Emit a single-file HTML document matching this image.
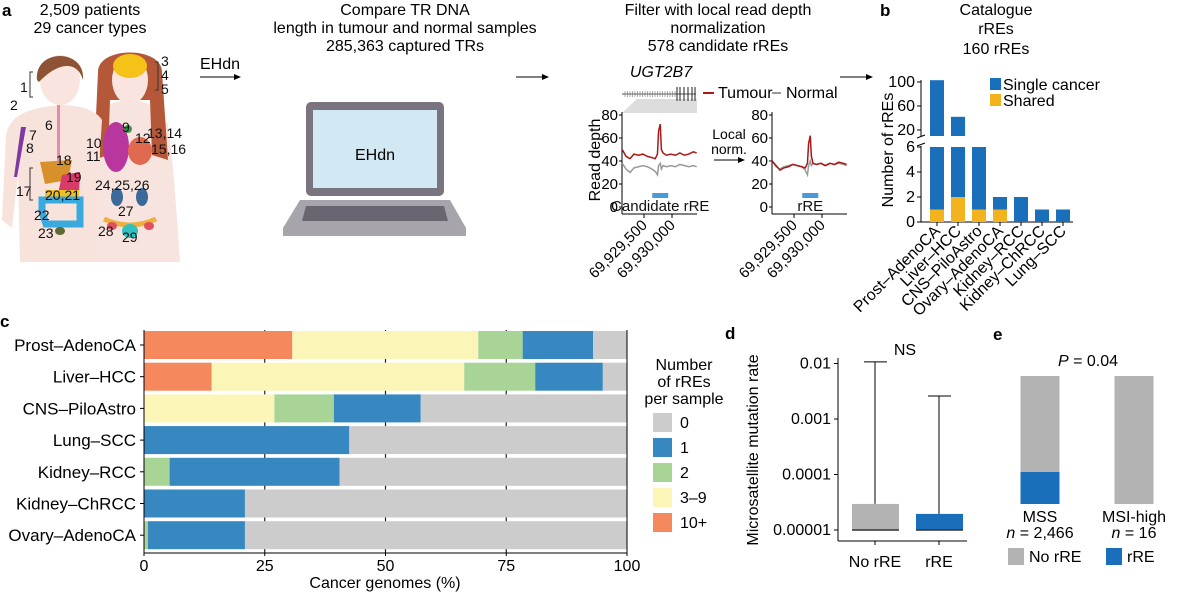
<!DOCTYPE html>
<html><head><meta charset="utf-8"><style>
html,body{margin:0;padding:0;background:#fff}
svg{display:block;font-family:"Liberation Sans",Arial,sans-serif}
</style></head><body>
<svg id="fig" width="1200" height="594" viewBox="0 0 1200 594" xmlns="http://www.w3.org/2000/svg">
<g id="panelA">
<text x="2" y="16" font-size="17" font-weight="bold">a</text>
<text x="90" y="15" font-size="16" text-anchor="middle">2,509 patients</text>
<text x="90" y="33" font-size="16" text-anchor="middle">29 cancer types</text>
<g>
<path d="M130 100 C100 102 95 115 90 125 C86 160 88 200 82 262 L180 262 C176 200 172 150 168 125 C160 113 152 100 130 100Z" fill="#f8e4df"/>
<path d="M98 72 C98 46 162 46 162 72 L168 160 L152 155 L150 100 L110 100 L108 155 L94 160Z" fill="#b5583a"/>
<ellipse cx="130" cy="80" rx="18" ry="24" fill="#f9e4df"/>
<ellipse cx="130" cy="66" rx="17" ry="12" fill="#f5c318"/>
<path d="M60 105 C28 108 10 115 6 135 L2 220 L12 228 L18 175 L20 262 L98 262 L100 150 L102 120 C96 110 80 105 60 105Z" fill="#f8e2dc"/>
<ellipse cx="60" cy="80" rx="20" ry="25" fill="#f9e4df"/>
<path d="M37 80 C34 48 86 48 83 80 C78 62 60 60 39 82Z" fill="#8e5234"/>
<path d="M21 127 L26 127 L17 177 L14 177Z" fill="#7d3aa0"/>
<rect x="57" y="105" width="3" height="62" fill="#e88ab0"/>
<path d="M40 162 L72 160 L68 180 L45 184Z" fill="#d8902a"/>
<path d="M62 175 L80 172 L79 194 L58 194Z" fill="#d83a6a"/>
<rect x="45" y="190" width="34" height="9" fill="#f0c020"/>
<path d="M42 200 L80 200 L80 224 L46 224 L42 212Z" fill="none" stroke="#3aa9dd" stroke-width="7"/>
<ellipse cx="60" cy="231" rx="5" ry="4" fill="#5a6a30"/>
<ellipse cx="116" cy="147" rx="13" ry="25" fill="#b8369e"/>
<ellipse cx="128" cy="129" rx="4" ry="4" fill="#3a9a4a"/>
<ellipse cx="140" cy="151" rx="12" ry="14" fill="#e06a50"/>
<ellipse cx="117" cy="197" rx="6" ry="9" fill="#3a6a9a"/>
<ellipse cx="142" cy="197" rx="6" ry="9" fill="#3a6a9a"/>
<path d="M104 219 Q130 231 156 219" fill="none" stroke="#f0b040" stroke-width="5"/>
<ellipse cx="112" cy="226" rx="5" ry="4" fill="#e05060"/>
<ellipse cx="149" cy="226" rx="5" ry="4" fill="#e05060"/>
<ellipse cx="130" cy="231" rx="8" ry="7" fill="#30c0c0"/>
<g font-size="14" fill="#111">
<text x="20" y="92">1</text><text x="10" y="110">2</text><text x="45" y="130">6</text>
<text x="29" y="140">7</text><text x="26" y="153">8</text><text x="161" y="66">3</text><text x="161" y="80">4</text><text x="161" y="94">5</text>
<text x="122" y="132">9</text><text x="86" y="148">10</text><text x="86" y="161">11</text><text x="135" y="143">12</text>
<text x="147" y="138">13,14</text><text x="151" y="154">15,16</text><text x="56" y="165">18</text><text x="66" y="182">19</text>
<text x="16" y="196">17</text><text x="45" y="200">20,21</text><text x="34" y="220">22</text><text x="38" y="238">23</text>
<text x="95" y="190">24,25,26</text><text x="118" y="216">27</text><text x="98" y="236">28</text><text x="122" y="242">29</text>
</g>
<path d="M33 72 L30 72 L30 97 L33 97 M155 62 L158 62 L158 90 L155 90 M33 168 L30 168 L30 200 L33 200" fill="none" stroke="#333"/>
</g>
<text x="220" y="69" font-size="16" text-anchor="middle">EHdn</text>
<g><line x1="200" y1="77" x2="236" y2="77" stroke="#000"/><path d="M241 77 L234 74 L234 80Z"/></g>
<text x="405" y="15" font-size="16" text-anchor="middle">Compare TR DNA</text>
<text x="405" y="33" font-size="16" text-anchor="middle">length in tumour and normal samples</text>
<text x="405" y="51" font-size="16" text-anchor="middle">285,363 captured TRs</text>
<g>
<rect x="306" y="102" width="138" height="94" rx="5" fill="#7a7480"/>
<rect x="313" y="110" width="124" height="78" fill="#d2e8f2"/>
<path d="M300 200 L450 200 L466 228 L466 236 L283 236 L283 228Z" fill="#a8a4ac"/>
<path d="M306 206 L444 206 L448 221 L302 221Z" fill="#6a6570"/>
<text x="375" y="160" font-size="16" text-anchor="middle">EHdn</text>
</g>
<g><line x1="516" y1="77" x2="544" y2="77" stroke="#000"/><path d="M549 77 L542 74 L542 80Z"/></g>
<text x="718" y="15" font-size="16" text-anchor="middle">Filter with local read depth</text>
<text x="718" y="33" font-size="16" text-anchor="middle">normalization</text>
<text x="718" y="51" font-size="16" text-anchor="middle">578 candidate rREs</text>
<text x="661" y="77" font-size="16" font-style="italic" text-anchor="middle">UGT2B7</text>
<g id="geneTrack">
<line x1="622" y1="94" x2="696" y2="94" stroke="#555"/>
<path d="M637 99 L622 113 L697 113 L697 99Z" fill="#ddd"/>
</g>
<g>
<line x1="703" y1="93" x2="714" y2="93" stroke="#b01818" stroke-width="2"/>
<text x="718" y="98" font-size="16">Tumour</text>
<line x1="772" y1="93" x2="781" y2="93" stroke="#999" stroke-width="2"/>
<text x="786" y="98" font-size="16">Normal</text>
</g>
<text x="729" y="139" font-size="14" text-anchor="middle">Local</text>
<text x="729" y="154" font-size="14" text-anchor="middle">norm.</text>
<g><line x1="714" y1="160" x2="740" y2="160" stroke="#000"/><path d="M745 160 L738 157 L738 163Z"/></g>
<text x="600" y="160" font-size="16" text-anchor="middle" transform="rotate(-90 600 160)">Read depth</text>
<g id="rd1"></g>
<g id="rd2"></g>
<g><line x1="840" y1="77" x2="868" y2="77" stroke="#000"/><path d="M873 77 L866 74 L866 80Z"/></g>
</g>
<g id="panelB">
<text x="880" y="16" font-size="17" font-weight="bold">b</text>
<text x="996" y="15" font-size="16" text-anchor="middle">Catalogue</text>
<text x="996" y="34" font-size="16" text-anchor="middle">rREs</text>
<text x="996" y="54" font-size="16" text-anchor="middle">160 rREs</text>
<text x="893" y="150" font-size="16" text-anchor="middle" transform="rotate(-90 893 150)">Number of rREs</text>
<rect x="990" y="78" width="11" height="12" fill="#1a6fba"/>
<text x="1003" y="90" font-size="16">Single cancer</text>
<rect x="990" y="94" width="11" height="12" fill="#f2b31e"/>
<text x="1003" y="106" font-size="16">Shared</text>
</g>
<g id="panelC">
<text x="0" y="327" font-size="17" font-weight="bold">c</text>
<text x="385" y="588" font-size="16" text-anchor="middle">Cancer genomes (%)</text>
<text x="684" y="370" font-size="16" text-anchor="middle">Number</text>
<text x="684" y="387" font-size="16" text-anchor="middle">of rREs</text>
<text x="684" y="404" font-size="16" text-anchor="middle">per sample</text>
</g>
<g id="panelD">
<text x="725" y="339" font-size="17" font-weight="bold">d</text>
<text x="905" y="355" font-size="16" text-anchor="middle">NS</text>
<text x="758" y="450" font-size="16" text-anchor="middle" transform="rotate(-90 758 450)">Microsatellite mutation rate</text>
</g>
<g id="panelE">
<text x="993" y="340" font-size="17" font-weight="bold">e</text>
<text x="1088" y="366" font-size="16" text-anchor="middle"><tspan font-style="italic">P</tspan> = 0.04</text>
</g>
</svg>
<script>
var NS="http://www.w3.org/2000/svg";
function mk(p,t,a){var e=document.createElementNS(NS,t);for(var k in a)e.setAttribute(k,a[k]);p.appendChild(e);return e;}
// ---- read depth data (tumour/normal depth along locus) ----
var rdPositions=[69929110,69929180,69929250,69929320,69929400,69929480,69929560,69929640,69929700,69929740,69929760,69929790,69929810,69929840,69929900,69929980,69930060,69930140,69930220,69930300,69930380,69930440];
var rdTumour1=[50,44,42,46,45,46,44,43,42,46,66,72,50,47,45,46,45,47,45,46,48,47];
var rdNormal1=[38,33,30,34,35,36,35,33,31,28,36,38,33,36,35,36,35,37,36,35,36,35];
var rdTumour2=[40,36,32,34,35,37,36,35,34,38,55,62,44,38,37,38,36,38,37,39,38,37];
var rdNormal2=[40,35,33,35,36,37,36,35,32,28,36,40,36,38,37,38,36,38,37,38,37,36];
var rdTicks=[0,20,40,60,80];
var rdXTicks=[69929500,69930000];
var rdXTickLabels=["69,929,500","69,930,000"];
function drawRD(g,x0,tum,nor,label){
  var xMin=69929107,xMax=69930446,x1=x0+75;
  function X(v){return x0+(v-xMin)/(xMax-xMin)*(x1-x0);}
  function Y(v){return 207-v*(207-115)/80;}
  mk(g,"line",{x1:x0,y1:112,x2:x0,y2:214,stroke:"#000"});
  mk(g,"line",{x1:x0,y1:214,x2:x1,y2:214,stroke:"#000"});
  rdTicks.forEach(function(t){var y=Y(t);mk(g,"line",{x1:x0-3,y1:y,x2:x0,y2:y,stroke:"#000"});
    var tx=mk(g,"text",{x:x0-4,y:y+5,"font-size":"15","text-anchor":"end"});tx.textContent=t;
    
    });
  rdXTicks.forEach(function(t,i){var x=X(t);mk(g,"line",{x1:x,y1:214,x2:x,y2:218,stroke:"#000"});
    var tx=mk(g,"text",{x:x+4,y:226,"font-size":"15","text-anchor":"end",transform:"rotate(-45 "+(x+4)+" 226)"});tx.textContent=rdXTickLabels[i];
    
    });
  var pn=rdPositions.map(function(p,i){return X(p)+","+Y(nor[i]);}).join(" ");
  var n=mk(g,"polyline",{points:pn,fill:"none",stroke:"#999","stroke-width":"1.5"});
  
  
  var pt=rdPositions.map(function(p,i){return X(p)+","+Y(tum[i]);}).join(" ");
  var t=mk(g,"polyline",{points:pt,fill:"none",stroke:"#a81818","stroke-width":"1.5"});
  
  
  var cx=X(69929790);
  var r=mk(g,"rect",{x:cx-8,y:193,width:16,height:5,fill:"#4a9ad8"});
  
  
  var l=mk(g,"text",{x:cx,y:211,"font-size":"15","text-anchor":"middle",fill:"#111"});l.textContent=label;
  
  
}
drawRD(document.getElementById("rd1"),622,rdTumour1,rdNormal1,"Candidate rRE");
drawRD(document.getElementById("rd2"),772,rdTumour2,rdNormal2,"rRE");
(function(){var g=document.getElementById("geneTrack");
 for(var x=625;x<676;x+=2.5)mk(g,"line",{x1:x,y1:91,x2:x,y2:97,stroke:"#777","stroke-width":"0.6"});
 [677,680,684,688,692,695].forEach(function(x){mk(g,"line",{x1:x,y1:87,x2:x,y2:101,stroke:"#222","stroke-width":"1"});});})();

// ---- panel b ----
var bCats=["Prost–AdenoCA","Liver–HCC","CNS–PiloAstro","Ovary–AdenoCA","Kidney–RCC","Kidney–ChRCC","Lung–SCC"];
var bSingle=[102,40,5,1,2,1,1];
var bShared=[1,2,1,1,0,0,0];
var bLowTicks=[0,2,4,6];
var bHighTicks=[20,60,100];
(function(){
 var g=document.getElementById("panelB");
 function yL(v){return 222-v*12.5;}
 function yH(v){return 130-(v-20)*0.6;}
 mk(g,"line",{x1:921,y1:146,x2:921,y2:222,stroke:"#000"});
 mk(g,"line",{x1:921,y1:80,x2:921,y2:136,stroke:"#000"});
 mk(g,"line",{x1:917,y1:138,x2:925,y2:135,stroke:"#000"});
 mk(g,"line",{x1:917,y1:146,x2:925,y2:143,stroke:"#000"});
 mk(g,"line",{x1:921,y1:222,x2:1073,y2:222,stroke:"#000"});
 bLowTicks.forEach(function(t){var y=yL(t);mk(g,"line",{x1:917,y1:y,x2:921,y2:y,stroke:"#000"});
  var tx=mk(g,"text",{x:915,y:y+5,"font-size":"16","text-anchor":"end"});tx.textContent=t;
  
  });
 bHighTicks.forEach(function(t){var y=yH(t);mk(g,"line",{x1:917,y1:y,x2:921,y2:y,stroke:"#000"});
  var tx=mk(g,"text",{x:915,y:y+5,"font-size":"16","text-anchor":"end"});tx.textContent=t;
  
  });
 bCats.forEach(function(c,i){
  var cx=937+i*21,w=14,tot=bSingle[i]+bShared[i];
  if(bShared[i]>0){var r=mk(g,"rect",{x:cx-w/2,y:yL(bShared[i]),width:w,height:yL(0)-yL(bShared[i]),fill:"#f2b31e"});
   
   }
  var top=Math.min(tot,6);
  var b=mk(g,"rect",{x:cx-w/2,y:yL(top),width:w,height:yL(bShared[i])-yL(top),fill:"#1a6fba"});
  
  
  if(tot>6){var u=mk(g,"rect",{x:cx-w/2,y:yH(tot),width:w,height:136-yH(tot),fill:"#1a6fba"});
   
   }
  mk(g,"line",{x1:cx,y1:222,x2:cx,y2:226,stroke:"#000"});
  var tx=mk(g,"text",{x:cx+4,y:232,"font-size":"16","text-anchor":"end",transform:"rotate(-45 "+(cx+4)+" 232)"});tx.textContent=c;
  
  
 });
})();

// ---- panel c ----
var cCats=["Prost–AdenoCA","Liver–HCC","CNS–PiloAstro","Lung–SCC","Kidney–RCC","Kidney–ChRCC","Ovary–AdenoCA"];
var cKeys=["10+","3–9","2","1","0"];
var c10plus=[30.7,14,0,0,0,0,0];
var c3to9=[38.5,52.3,27,0,0,0,0];
var c2=[9.2,14.7,12.3,0,5.3,0,0.8];
var c1=[14.6,14,18,42.5,35.2,20.9,20.1];
var c0=[7,5,42.7,57.5,59.5,79.1,79.1];
var cColors={"0":"#cccccc","1":"#3787c0","2":"#a8d596","3–9":"#fbf6b7","10+":"#f5885c"};
var cXTicks=[0,25,50,75,100];
var cLegendOrder=["0","1","2","3–9","10+"];
(function(){
 var g=document.getElementById("panelC");
 function X(v){return 144+v*(627-144)/100;}
 var series=[c10plus,c3to9,c2,c1,c0];
 cXTicks.slice(1,4).forEach(function(t){mk(g,"line",{x1:X(t),y1:330,x2:X(t),y2:553,stroke:"#222","stroke-width":"1.2"});});
 cCats.forEach(function(c,i){
  var y=331+i*31.7,h=28,acc=0;
  series.forEach(function(s,k){var v=s[i];if(v>0){var r=mk(g,"rect",{x:X(acc),y:y,width:X(acc+v)-X(acc),height:h,fill:cColors[cKeys[k]]});
   
   }acc+=v;});
  mk(g,"line",{x1:140,y1:y+h/2,x2:144,y2:y+h/2,stroke:"#000"});
  var tx=mk(g,"text",{x:136,y:y+h/2+6,"font-size":"17","text-anchor":"end"});tx.textContent=c;
  
  
 });
 mk(g,"line",{x1:144,y1:330,x2:144,y2:553,stroke:"#000"});
 mk(g,"line",{x1:627,y1:330,x2:627,y2:553,stroke:"#000"});
 mk(g,"line",{x1:144,y1:553,x2:627,y2:553,stroke:"#000"});
 cXTicks.forEach(function(t){mk(g,"line",{x1:X(t),y1:553,x2:X(t),y2:556,stroke:"#000"});
  var tx=mk(g,"text",{x:X(t),y:571,"font-size":"16","text-anchor":"middle"});tx.textContent=t;
  
  });
 cLegendOrder.forEach(function(k,i){var y=413+i*25;
  var r=mk(g,"rect",{x:653,y:y,width:19,height:19,fill:cColors[k]});
  
  
  var tx=mk(g,"text",{x:680,y:y+15,"font-size":"16"});tx.textContent=k;
  
  });
})();

// ---- panel d ----
var dCats=["No rRE","rRE"];
var dBoxTop=[2.95e-5,1.95e-5];
var dMedian=[1e-5,1e-5];
var dWhiskerTop=[1.07e-2,2.6e-3];
var dTickVals=[0.01,0.001,0.0001,0.00001];
var dTickLabels=["0.01","0.001","0.0001","0.00001"];
(function(){
 var g=document.getElementById("panelD");
 function Y(v){return 530-(Math.log10(v)+5)*55.5;}
 var cols=["#b3b3b3","#1a6fba"],xs=[875,939];
 mk(g,"line",{x1:838,y1:358,x2:838,y2:541,stroke:"#000"});
 mk(g,"line",{x1:838,y1:541,x2:967,y2:541,stroke:"#000"});
 dTickVals.forEach(function(t,i){var y=Y(t);mk(g,"line",{x1:834,y1:y,x2:838,y2:y,stroke:"#000"});
  var tx=mk(g,"text",{x:831,y:y+5,"font-size":"16","text-anchor":"end"});tx.textContent=dTickLabels[i];
  
  });
 dCats.forEach(function(c,i){var x=xs[i];
  var w=mk(g,"line",{x1:x,y1:Y(dWhiskerTop[i]),x2:x,y2:Y(dBoxTop[i]),stroke:"#000"});
  
  
  mk(g,"line",{x1:x-11,y1:Y(dWhiskerTop[i]),x2:x+12,y2:Y(dWhiskerTop[i]),stroke:"#000"});
  var b=mk(g,"rect",{x:x-23,y:Y(dBoxTop[i]),width:47,height:Y(dMedian[i])-Y(dBoxTop[i]),fill:cols[i]});
  
  
  mk(g,"line",{x1:x-23,y1:Y(dMedian[i]),x2:x+24,y2:Y(dMedian[i]),stroke:"#333","stroke-width":"1.5"});
  mk(g,"line",{x1:x,y1:541,x2:x,y2:545,stroke:"#000"});
  var tx=mk(g,"text",{x:x,y:567,"font-size":"16","text-anchor":"middle"});tx.textContent=c;
  
  });
})();

// ---- panel e ----
var eCats=["MSS","MSI-high"];
var eN=["n = 2,466","n = 16"];
var eRREFrac=[0.25,0];
(function(){
 var g=document.getElementById("panelE");
 var xs=[1040,1134],top=376,bot=504;
 eCats.forEach(function(c,i){var x=xs[i],h=bot-top;
  var r=mk(g,"rect",{x:x-19.5,y:top,width:39,height:h,fill:"#b3b3b3"});
  
  
  if(eRREFrac[i]>0){var b=mk(g,"rect",{x:x-19.5,y:bot-h*eRREFrac[i],width:39,height:h*eRREFrac[i],fill:"#1a6fba"});
   
   }
  var t=mk(g,"text",{x:x,y:522,"font-size":"16","text-anchor":"middle"});t.textContent=c;
  
  
  var n=mk(g,"text",{x:x,y:538,"font-size":"16","text-anchor":"middle"});
  var it=mk(n,"tspan",{"font-style":"italic"});it.textContent="n";
  var rest=mk(n,"tspan",{});rest.textContent=eN[i].slice(1);
  
  });
 var s1=mk(g,"rect",{x:1008,y:548,width:16,height:17,fill:"#b3b3b3"});
 
 
 var l1=mk(g,"text",{x:1029,y:562,"font-size":"16"});l1.textContent="No rRE";
 
 
 var s2=mk(g,"rect",{x:1106,y:548,width:16,height:17,fill:"#1a6fba"});
 
 
 var l2=mk(g,"text",{x:1127,y:562,"font-size":"16"});l2.textContent="rRE";
 
 
})();
</script>
</body></html>
